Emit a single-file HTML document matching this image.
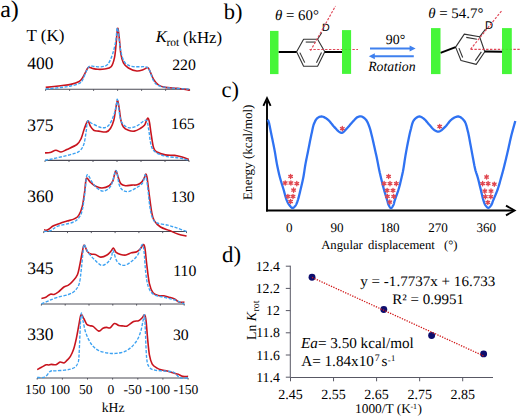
<!DOCTYPE html>
<html><head><meta charset="utf-8"><style>
html,body{margin:0;padding:0;background:#fff;overflow:hidden;}
svg{display:block;text-rendering:geometricPrecision;}
</style></head><body>
<svg width="520" height="417" viewBox="0 0 520 417">
<rect width="520" height="417" fill="#fff"/>
<line x1="45.6" y1="89.3" x2="189.6" y2="89.3" stroke="#4a4a55" stroke-width="1.1"/>
<line x1="45.6" y1="89.3" x2="45.6" y2="90.9" stroke="#4a4a55" stroke-width="0.9"/>
<line x1="69.6" y1="89.3" x2="69.6" y2="90.9" stroke="#4a4a55" stroke-width="0.9"/>
<line x1="93.6" y1="89.3" x2="93.6" y2="90.9" stroke="#4a4a55" stroke-width="0.9"/>
<line x1="117.6" y1="89.3" x2="117.6" y2="90.9" stroke="#4a4a55" stroke-width="0.9"/>
<line x1="141.6" y1="89.3" x2="141.6" y2="90.9" stroke="#4a4a55" stroke-width="0.9"/>
<line x1="165.6" y1="89.3" x2="165.6" y2="90.9" stroke="#4a4a55" stroke-width="0.9"/>
<line x1="189.6" y1="89.3" x2="189.6" y2="90.9" stroke="#4a4a55" stroke-width="0.9"/>
<path d="M45.70 87.40 C48.22 87.12 56.62 86.20 60.80 85.70 C64.98 85.20 67.73 85.10 70.80 84.40 C73.87 83.70 77.23 82.62 79.20 81.50 C81.17 80.38 81.47 79.40 82.60 77.70 C83.73 76.00 85.02 73.03 86.00 71.30 C86.98 69.57 87.38 67.77 88.50 67.30 C89.62 66.83 91.17 68.17 92.70 68.50 C94.23 68.83 95.75 69.22 97.70 69.30 C99.65 69.38 102.17 69.42 104.40 69.00 C106.63 68.58 109.42 68.70 111.10 66.80 C112.78 64.90 113.67 61.38 114.50 57.60 C115.33 53.82 115.58 48.97 116.10 44.10 C116.62 39.23 117.08 29.52 117.60 28.40 C118.12 27.28 118.65 33.10 119.20 37.40 C119.75 41.70 120.20 49.95 120.90 54.20 C121.60 58.45 122.15 60.60 123.40 62.90 C124.65 65.20 126.17 66.65 128.40 68.00 C130.63 69.35 134.28 70.73 136.80 71.00 C139.32 71.27 141.68 70.17 143.50 69.60 C145.32 69.03 146.58 67.23 147.70 67.60 C148.82 67.97 149.22 69.83 150.20 71.80 C151.18 73.77 152.20 77.17 153.60 79.40 C155.00 81.63 156.65 83.87 158.60 85.20 C160.55 86.53 162.22 86.88 165.30 87.40 C168.38 87.92 173.73 87.97 177.10 88.30 C180.47 88.63 183.40 89.07 185.50 89.40 C187.60 89.73 189.00 90.15 189.70 90.30" fill="none" stroke="#c8141e" stroke-width="1.6" stroke-linejoin="round"/>
<path d="M45.70 89.00 C48.22 88.75 56.62 88.00 60.80 87.50 C64.98 87.00 67.73 86.67 70.80 86.00 C73.87 85.33 77.23 84.50 79.20 83.50 C81.17 82.50 81.47 81.92 82.60 80.00 C83.73 78.08 84.88 74.28 86.00 72.00 C87.12 69.72 87.92 67.22 89.30 66.30 C90.68 65.38 92.35 66.42 94.30 66.50 C96.25 66.58 98.75 67.17 101.00 66.80 C103.25 66.43 105.83 66.53 107.80 64.30 C109.77 62.07 111.47 57.32 112.80 53.40 C114.13 49.48 115.02 45.03 115.80 40.80 C116.58 36.57 116.65 26.18 117.50 28.00 C118.35 29.82 119.65 45.93 120.90 51.70 C122.15 57.47 123.18 60.17 125.00 62.60 C126.82 65.03 129.27 65.60 131.80 66.30 C134.33 67.00 137.83 66.72 140.20 66.80 C142.57 66.88 144.47 66.25 146.00 66.80 C147.53 67.35 148.13 67.73 149.40 70.10 C150.67 72.47 152.07 78.40 153.60 81.00 C155.13 83.60 156.08 84.57 158.60 85.70 C161.12 86.83 163.67 87.23 168.70 87.80 C173.73 88.37 185.45 88.88 188.80 89.10" fill="none" stroke="#3da2f2" stroke-width="1.35" stroke-dasharray="3.2 1.5"/>
<line x1="45.0" y1="160.4" x2="189.0" y2="160.4" stroke="#4a4a55" stroke-width="1.1"/>
<line x1="45.0" y1="160.4" x2="45.0" y2="162.0" stroke="#4a4a55" stroke-width="0.9"/>
<line x1="69.0" y1="160.4" x2="69.0" y2="162.0" stroke="#4a4a55" stroke-width="0.9"/>
<line x1="93.0" y1="160.4" x2="93.0" y2="162.0" stroke="#4a4a55" stroke-width="0.9"/>
<line x1="117.0" y1="160.4" x2="117.0" y2="162.0" stroke="#4a4a55" stroke-width="0.9"/>
<line x1="141.0" y1="160.4" x2="141.0" y2="162.0" stroke="#4a4a55" stroke-width="0.9"/>
<line x1="165.0" y1="160.4" x2="165.0" y2="162.0" stroke="#4a4a55" stroke-width="0.9"/>
<line x1="189.0" y1="160.4" x2="189.0" y2="162.0" stroke="#4a4a55" stroke-width="0.9"/>
<path d="M45.00 152.90 C45.85 152.83 48.28 152.93 50.10 152.50 C51.92 152.07 54.08 150.38 55.90 150.30 C57.72 150.22 59.18 152.13 61.00 152.00 C62.82 151.87 64.15 150.75 66.80 149.50 C69.45 148.25 74.52 146.32 76.90 144.50 C79.28 142.68 79.85 141.27 81.10 138.60 C82.35 135.93 83.28 131.43 84.40 128.50 C85.52 125.57 86.82 121.42 87.80 121.00 C88.78 120.58 89.32 124.47 90.30 126.00 C91.28 127.53 92.30 129.35 93.70 130.20 C95.10 131.05 96.60 130.82 98.70 131.10 C100.80 131.38 104.35 132.33 106.30 131.90 C108.25 131.47 109.15 130.45 110.40 128.50 C111.65 126.55 112.90 123.55 113.80 120.20 C114.70 116.85 115.18 111.77 115.80 108.40 C116.42 105.03 116.93 100.00 117.50 100.00 C118.07 100.00 118.63 105.03 119.20 108.40 C119.77 111.77 120.20 117.12 120.90 120.20 C121.60 123.28 122.15 125.23 123.40 126.90 C124.65 128.57 126.58 129.50 128.40 130.20 C130.22 130.90 132.33 131.38 134.30 131.10 C136.27 130.82 138.52 129.48 140.20 128.50 C141.88 127.52 143.43 126.32 144.40 125.20 C145.37 124.08 145.45 122.98 146.00 121.80 C146.55 120.62 147.13 118.10 147.70 118.10 C148.27 118.10 148.83 119.22 149.40 121.80 C149.97 124.38 150.40 129.27 151.10 133.60 C151.80 137.93 152.63 144.73 153.60 147.80 C154.57 150.87 154.95 150.82 156.90 152.00 C158.85 153.18 162.35 154.33 165.30 154.90 C168.25 155.47 171.80 155.03 174.60 155.40 C177.40 155.77 179.73 156.40 182.10 157.10 C184.47 157.80 187.68 159.18 188.80 159.60" fill="none" stroke="#c8141e" stroke-width="1.6" stroke-linejoin="round"/>
<path d="M45.00 160.40 C46.97 159.98 52.03 159.02 56.80 157.90 C61.57 156.78 69.68 154.97 73.60 153.70 C77.52 152.43 78.57 151.97 80.30 150.30 C82.03 148.63 83.03 146.77 84.00 143.70 C84.97 140.63 85.47 135.68 86.10 131.90 C86.73 128.12 86.82 122.40 87.80 121.00 C88.78 119.60 89.62 122.38 92.00 123.50 C94.38 124.62 99.30 127.42 102.10 127.70 C104.90 127.98 106.85 127.30 108.80 125.20 C110.75 123.10 112.55 118.45 113.80 115.10 C115.05 111.75 115.68 107.67 116.30 105.10 C116.92 102.53 116.88 97.75 117.50 99.70 C118.12 101.65 119.17 112.83 120.00 116.80 C120.83 120.77 121.10 121.68 122.50 123.50 C123.90 125.32 126.02 127.28 128.40 127.70 C130.78 128.12 133.87 127.25 136.80 126.00 C139.73 124.75 144.05 119.78 146.00 120.20 C147.95 120.62 147.65 124.32 148.50 128.50 C149.35 132.68 149.97 141.38 151.10 145.30 C152.23 149.22 152.93 150.18 155.30 152.00 C157.67 153.82 161.40 155.22 165.30 156.20 C169.20 157.18 174.78 157.25 178.70 157.90 C182.62 158.55 187.12 159.73 188.80 160.10" fill="none" stroke="#3da2f2" stroke-width="1.35" stroke-dasharray="3.2 1.5"/>
<line x1="43.7" y1="231.5" x2="186.5" y2="231.5" stroke="#4a4a55" stroke-width="1.1"/>
<line x1="43.7" y1="231.5" x2="43.7" y2="233.1" stroke="#4a4a55" stroke-width="0.9"/>
<line x1="67.5" y1="231.5" x2="67.5" y2="233.1" stroke="#4a4a55" stroke-width="0.9"/>
<line x1="91.3" y1="231.5" x2="91.3" y2="233.1" stroke="#4a4a55" stroke-width="0.9"/>
<line x1="115.1" y1="231.5" x2="115.1" y2="233.1" stroke="#4a4a55" stroke-width="0.9"/>
<line x1="138.9" y1="231.5" x2="138.9" y2="233.1" stroke="#4a4a55" stroke-width="0.9"/>
<line x1="162.7" y1="231.5" x2="162.7" y2="233.1" stroke="#4a4a55" stroke-width="0.9"/>
<line x1="186.5" y1="231.5" x2="186.5" y2="233.1" stroke="#4a4a55" stroke-width="0.9"/>
<path d="M44.00 229.70 C44.53 229.77 45.62 230.75 47.20 230.10 C48.78 229.45 51.40 226.92 53.50 225.80 C55.60 224.68 57.55 224.18 59.80 223.40 C62.05 222.62 64.60 221.85 67.00 221.10 C69.40 220.35 72.25 219.85 74.20 218.90 C76.15 217.95 77.35 217.48 78.70 215.40 C80.05 213.32 81.32 210.30 82.30 206.40 C83.28 202.50 83.92 196.65 84.60 192.00 C85.28 187.35 85.45 180.15 86.40 178.50 C87.35 176.85 88.75 180.82 90.30 182.10 C91.85 183.38 93.75 185.22 95.70 186.20 C97.65 187.18 99.75 188.08 102.00 188.00 C104.25 187.92 107.40 186.83 109.20 185.70 C111.00 184.57 111.97 182.85 112.80 181.20 C113.63 179.55 113.67 177.53 114.20 175.80 C114.73 174.07 115.32 170.50 116.00 170.80 C116.68 171.10 117.47 175.42 118.30 177.60 C119.13 179.78 119.80 182.55 121.00 183.90 C122.20 185.25 123.70 185.50 125.50 185.70 C127.30 185.90 129.85 185.25 131.80 185.10 C133.75 184.95 135.55 185.30 137.20 184.80 C138.85 184.30 140.50 183.30 141.70 182.10 C142.90 180.90 143.72 178.95 144.40 177.60 C145.08 176.25 145.35 174.00 145.80 174.00 C146.25 174.00 146.58 174.60 147.10 177.60 C147.62 180.60 148.15 186.32 148.90 192.00 C149.65 197.68 150.72 206.92 151.60 211.70 C152.48 216.48 152.72 218.15 154.20 220.70 C155.68 223.25 157.95 225.35 160.50 227.00 C163.05 228.65 166.50 229.40 169.50 230.60 C172.50 231.80 175.65 233.30 178.50 234.20 C181.35 235.10 185.25 235.70 186.60 236.00" fill="none" stroke="#c8141e" stroke-width="1.6" stroke-linejoin="round"/>
<path d="M44.00 231.50 C45.13 231.35 48.47 231.50 50.80 230.60 C53.13 229.70 54.40 227.45 58.00 226.10 C61.60 224.75 68.95 223.85 72.40 222.50 C75.85 221.15 77.05 220.08 78.70 218.00 C80.35 215.92 81.25 214.33 82.30 210.00 C83.35 205.67 84.20 197.85 85.00 192.00 C85.80 186.15 85.92 176.55 87.10 174.90 C88.28 173.25 90.37 179.85 92.10 182.10 C93.83 184.35 95.55 186.90 97.50 188.40 C99.45 189.90 101.55 191.55 103.80 191.10 C106.05 190.65 108.97 189.15 111.00 185.70 C113.03 182.25 114.63 170.55 116.00 170.40 C117.37 170.25 118.07 181.50 119.20 184.80 C120.33 188.10 121.30 189.07 122.80 190.20 C124.30 191.33 126.10 191.90 128.20 191.60 C130.30 191.30 133.00 189.83 135.40 188.40 C137.80 186.97 140.95 185.25 142.60 183.00 C144.25 180.75 144.47 174.30 145.30 174.90 C146.13 175.50 146.85 181.35 147.60 186.60 C148.35 191.85 148.98 201.17 149.80 206.40 C150.62 211.63 151.30 215.25 152.50 218.00 C153.70 220.75 154.47 221.70 157.00 222.90 C159.53 224.10 164.42 224.37 167.70 225.20 C170.98 226.03 173.55 226.85 176.70 227.90 C179.85 228.95 184.95 230.90 186.60 231.50" fill="none" stroke="#3da2f2" stroke-width="1.35" stroke-dasharray="3.2 1.5"/>
<line x1="41.4" y1="304.0" x2="184.2" y2="304.0" stroke="#4a4a55" stroke-width="1.1"/>
<line x1="41.4" y1="304.0" x2="41.4" y2="305.6" stroke="#4a4a55" stroke-width="0.9"/>
<line x1="65.2" y1="304.0" x2="65.2" y2="305.6" stroke="#4a4a55" stroke-width="0.9"/>
<line x1="89.0" y1="304.0" x2="89.0" y2="305.6" stroke="#4a4a55" stroke-width="0.9"/>
<line x1="112.8" y1="304.0" x2="112.8" y2="305.6" stroke="#4a4a55" stroke-width="0.9"/>
<line x1="136.6" y1="304.0" x2="136.6" y2="305.6" stroke="#4a4a55" stroke-width="0.9"/>
<line x1="160.4" y1="304.0" x2="160.4" y2="305.6" stroke="#4a4a55" stroke-width="0.9"/>
<line x1="184.2" y1="304.0" x2="184.2" y2="305.6" stroke="#4a4a55" stroke-width="0.9"/>
<path d="M41.40 298.50 C42.15 298.28 44.40 297.92 45.90 297.20 C47.40 296.48 49.05 294.65 50.40 294.20 C51.75 293.75 52.65 294.90 54.00 294.50 C55.35 294.10 56.85 293.05 58.50 291.80 C60.15 290.55 62.25 288.10 63.90 287.00 C65.55 285.90 66.90 286.20 68.40 285.20 C69.90 284.20 71.40 282.73 72.90 281.00 C74.40 279.27 76.22 277.63 77.40 274.80 C78.58 271.97 79.17 267.90 80.00 264.00 C80.83 260.10 81.70 254.55 82.40 251.40 C83.10 248.25 83.40 245.10 84.20 245.10 C85.00 245.10 86.10 249.90 87.20 251.40 C88.30 252.90 89.45 253.60 90.80 254.10 C92.15 254.60 93.65 253.90 95.30 254.40 C96.95 254.90 98.75 257.00 100.70 257.10 C102.65 257.20 105.27 256.02 107.00 255.00 C108.73 253.98 110.03 252.15 111.10 251.00 C112.17 249.85 112.57 247.88 113.40 248.10 C114.23 248.32 114.90 251.25 116.10 252.30 C117.30 253.35 118.95 253.95 120.60 254.40 C122.25 254.85 124.20 255.27 126.00 255.00 C127.80 254.73 129.60 253.35 131.40 252.80 C133.20 252.25 135.30 252.38 136.80 251.70 C138.30 251.02 139.35 249.88 140.40 248.70 C141.45 247.52 142.35 244.75 143.10 244.60 C143.85 244.45 144.30 244.57 144.90 247.80 C145.50 251.03 145.95 258.02 146.70 264.00 C147.45 269.98 148.35 278.92 149.40 283.70 C150.45 288.48 151.50 290.75 153.00 292.70 C154.50 294.65 156.60 294.88 158.40 295.40 C160.20 295.92 162.02 295.50 163.80 295.80 C165.58 296.10 167.32 296.67 169.10 297.20 C170.88 297.73 172.85 298.18 174.50 299.00 C176.15 299.82 177.35 301.58 179.00 302.10 C180.65 302.62 183.50 302.10 184.40 302.10" fill="none" stroke="#c8141e" stroke-width="1.6" stroke-linejoin="round"/>
<path d="M41.40 303.90 C42.60 303.38 45.90 301.92 48.60 300.80 C51.30 299.68 54.30 298.25 57.60 297.20 C60.90 296.15 65.55 295.55 68.40 294.50 C71.25 293.45 72.90 292.70 74.70 290.90 C76.50 289.10 78.10 287.28 79.20 283.70 C80.30 280.12 80.65 274.78 81.30 269.40 C81.95 264.02 82.62 255.53 83.10 251.40 C83.58 247.27 83.37 244.45 84.20 244.60 C85.03 244.75 86.40 249.82 88.10 252.30 C89.80 254.78 92.15 257.32 94.40 259.50 C96.65 261.68 99.35 264.95 101.60 265.40 C103.85 265.85 106.25 263.63 107.90 262.20 C109.55 260.77 110.65 258.75 111.50 256.80 C112.35 254.85 112.08 249.75 113.00 250.50 C113.92 251.25 115.28 258.82 117.00 261.30 C118.72 263.78 121.05 265.25 123.30 265.40 C125.55 265.55 128.10 263.93 130.50 262.20 C132.90 260.47 135.75 257.93 137.70 255.00 C139.65 252.07 141.15 245.20 142.20 244.60 C143.25 244.00 143.40 246.67 144.00 251.40 C144.60 256.13 145.05 267.02 145.80 273.00 C146.55 278.98 147.17 283.72 148.50 287.30 C149.83 290.88 151.25 292.85 153.80 294.50 C156.35 296.15 160.35 296.30 163.80 297.20 C167.25 298.10 171.07 298.78 174.50 299.90 C177.93 301.02 182.75 303.23 184.40 303.90" fill="none" stroke="#3da2f2" stroke-width="1.35" stroke-dasharray="3.2 1.5"/>
<line x1="37.2" y1="378.0" x2="188.1" y2="378.0" stroke="#4a4a55" stroke-width="1.1"/>
<line x1="37.2" y1="378.0" x2="37.2" y2="379.6" stroke="#4a4a55" stroke-width="0.9"/>
<line x1="62.4" y1="378.0" x2="62.4" y2="379.6" stroke="#4a4a55" stroke-width="0.9"/>
<line x1="87.5" y1="378.0" x2="87.5" y2="379.6" stroke="#4a4a55" stroke-width="0.9"/>
<line x1="112.6" y1="378.0" x2="112.6" y2="379.6" stroke="#4a4a55" stroke-width="0.9"/>
<line x1="137.8" y1="378.0" x2="137.8" y2="379.6" stroke="#4a4a55" stroke-width="0.9"/>
<line x1="162.9" y1="378.0" x2="162.9" y2="379.6" stroke="#4a4a55" stroke-width="0.9"/>
<line x1="188.1" y1="378.0" x2="188.1" y2="379.6" stroke="#4a4a55" stroke-width="0.9"/>
<path d="M37.20 369.60 C37.92 369.22 40.00 368.10 41.50 367.30 C43.00 366.50 45.03 365.18 46.20 364.80 C47.37 364.42 47.65 365.07 48.50 365.00 C49.35 364.93 50.05 364.45 51.30 364.40 C52.55 364.35 54.55 365.08 56.00 364.70 C57.45 364.32 58.67 362.40 60.00 362.10 C61.33 361.80 62.85 363.18 64.00 362.90 C65.15 362.62 65.83 361.50 66.90 360.40 C67.97 359.30 69.28 358.15 70.40 356.30 C71.52 354.45 72.62 352.25 73.60 349.30 C74.58 346.35 75.40 342.78 76.30 338.60 C77.20 334.42 78.22 328.17 79.00 324.20 C79.78 320.23 80.20 315.75 81.00 314.80 C81.80 313.85 82.85 316.93 83.80 318.50 C84.75 320.07 85.63 323.00 86.70 324.20 C87.77 325.40 89.13 325.33 90.20 325.70 C91.27 326.07 91.67 325.50 93.10 326.40 C94.53 327.30 97.15 330.80 98.80 331.10 C100.45 331.40 101.70 328.82 103.00 328.20 C104.30 327.58 105.40 327.47 106.60 327.40 C107.80 327.33 108.90 328.45 110.20 327.80 C111.50 327.15 112.98 323.90 114.40 323.50 C115.82 323.10 117.38 325.00 118.70 325.40 C120.02 325.80 120.88 325.82 122.30 325.90 C123.72 325.98 125.32 326.65 127.20 325.90 C129.08 325.15 131.70 322.27 133.60 321.40 C135.50 320.53 137.17 321.30 138.60 320.70 C140.03 320.10 141.20 318.78 142.20 317.80 C143.20 316.82 143.95 314.27 144.60 314.80 C145.25 315.33 145.60 317.03 146.10 321.00 C146.60 324.97 147.05 332.97 147.60 338.60 C148.15 344.23 148.65 350.60 149.40 354.80 C150.15 359.00 150.90 361.63 152.10 363.80 C153.30 365.97 154.95 366.75 156.60 367.80 C158.25 368.85 160.20 369.57 162.00 370.10 C163.80 370.63 165.60 370.55 167.40 371.00 C169.20 371.45 171.00 372.25 172.80 372.80 C174.60 373.35 176.55 373.70 178.20 374.30 C179.85 374.90 181.05 376.05 182.70 376.40 C184.35 376.75 187.20 376.40 188.10 376.40" fill="none" stroke="#c8141e" stroke-width="1.6" stroke-linejoin="round"/>
<path d="M37.20 377.50 C38.50 377.42 42.83 378.03 45.00 377.00 C47.17 375.97 48.47 372.33 50.20 371.30 C51.93 370.27 53.00 370.98 55.40 370.80 C57.80 370.62 62.00 370.50 64.60 370.20 C67.20 369.90 69.17 369.58 71.00 369.00 C72.83 368.42 74.45 367.75 75.60 366.70 C76.75 365.65 77.33 364.52 77.90 362.70 C78.47 360.88 78.48 363.78 79.00 355.80 C79.52 347.82 80.32 320.53 81.00 314.80 C81.68 309.07 82.38 318.65 83.10 321.40 C83.82 324.15 84.35 328.22 85.30 331.30 C86.25 334.38 87.50 337.40 88.80 339.90 C90.10 342.40 91.43 344.52 93.10 346.30 C94.77 348.08 96.43 349.48 98.80 350.60 C101.17 351.72 104.47 352.53 107.30 353.00 C110.13 353.47 112.95 353.63 115.80 353.40 C118.65 353.17 121.78 352.67 124.40 351.60 C127.02 350.53 129.37 348.95 131.50 347.00 C133.63 345.05 135.65 342.52 137.20 339.90 C138.75 337.28 139.85 334.38 140.80 331.30 C141.75 328.22 142.27 324.15 142.90 321.40 C143.53 318.65 144.20 313.43 144.60 314.80 C145.00 316.17 144.95 322.33 145.30 329.60 C145.65 336.87 146.02 352.10 146.70 358.40 C147.38 364.70 148.05 365.45 149.40 367.40 C150.75 369.35 152.40 369.50 154.80 370.10 C157.20 370.70 160.80 370.70 163.80 371.00 C166.80 371.30 170.55 371.15 172.80 371.90 C175.05 372.65 176.10 374.50 177.30 375.50 C178.50 376.50 178.20 377.50 180.00 377.90 C181.80 378.30 186.75 377.90 188.10 377.90" fill="none" stroke="#3da2f2" stroke-width="1.35" stroke-dasharray="3.2 1.5"/>
<text x="0.20" y="17.30" font-family="&quot;Liberation Serif&quot;, serif" font-size="24.00" text-anchor="start">a)</text>
<text x="26.50" y="41.20" font-family="&quot;Liberation Serif&quot;, serif" font-size="17.00" text-anchor="start">T (K)</text>
<text x="155.80" y="41.90" font-family="&quot;Liberation Serif&quot;, serif" font-size="16.50" text-anchor="start"><tspan font-style="italic">K</tspan></text>
<text x="166.50" y="46.30" font-family="&quot;Liberation Serif&quot;, serif" font-size="11.50" text-anchor="start">rot</text>
<text x="183.00" y="43.20" font-family="&quot;Liberation Serif&quot;, serif" font-size="16.80" text-anchor="start">(kHz)</text>
<text x="27.30" y="68.60" font-family="&quot;Liberation Serif&quot;, serif" font-size="17.50" text-anchor="start">400</text>
<text x="27.30" y="130.50" font-family="&quot;Liberation Serif&quot;, serif" font-size="17.50" text-anchor="start">375</text>
<text x="27.30" y="201.80" font-family="&quot;Liberation Serif&quot;, serif" font-size="17.50" text-anchor="start">360</text>
<text x="27.30" y="274.30" font-family="&quot;Liberation Serif&quot;, serif" font-size="17.50" text-anchor="start">345</text>
<text x="27.30" y="340.20" font-family="&quot;Liberation Serif&quot;, serif" font-size="17.50" text-anchor="start">330</text>
<text x="195.90" y="69.60" font-family="&quot;Liberation Serif&quot;, serif" font-size="15.80" text-anchor="end">220</text>
<text x="194.70" y="129.00" font-family="&quot;Liberation Serif&quot;, serif" font-size="15.80" text-anchor="end">165</text>
<text x="194.70" y="202.10" font-family="&quot;Liberation Serif&quot;, serif" font-size="15.80" text-anchor="end">130</text>
<text x="196.40" y="275.60" font-family="&quot;Liberation Serif&quot;, serif" font-size="15.80" text-anchor="end">110</text>
<text x="188.70" y="340.00" font-family="&quot;Liberation Serif&quot;, serif" font-size="15.80" text-anchor="end">30</text>
<text x="25.10" y="394.30" font-family="&quot;Liberation Serif&quot;, serif" font-size="13.60" text-anchor="start">150</text>
<text x="49.70" y="394.30" font-family="&quot;Liberation Serif&quot;, serif" font-size="13.60" text-anchor="start">100</text>
<text x="79.00" y="394.30" font-family="&quot;Liberation Serif&quot;, serif" font-size="13.60" text-anchor="start">50</text>
<text x="107.40" y="394.30" font-family="&quot;Liberation Serif&quot;, serif" font-size="13.60" text-anchor="start">0</text>
<text x="123.60" y="394.30" font-family="&quot;Liberation Serif&quot;, serif" font-size="13.60" text-anchor="start">-50</text>
<text x="145.20" y="394.30" font-family="&quot;Liberation Serif&quot;, serif" font-size="13.60" text-anchor="start">-100</text>
<text x="173.50" y="394.30" font-family="&quot;Liberation Serif&quot;, serif" font-size="13.60" text-anchor="start">-150</text>
<text x="101.70" y="412.20" font-family="&quot;Liberation Serif&quot;, serif" font-size="13.70" text-anchor="start">kHz</text>
<text x="223.80" y="18.90" font-family="&quot;Liberation Serif&quot;, serif" font-size="22.50" text-anchor="start">b)</text>
<text x="275.00" y="20.20" font-family="&quot;Liberation Serif&quot;, serif" font-size="14.80" text-anchor="start" textLength="43.90" lengthAdjust="spacingAndGlyphs"><tspan font-style="italic">θ</tspan> = 60°</text>
<text x="428.20" y="18.00" font-family="&quot;Liberation Serif&quot;, serif" font-size="14.60" text-anchor="start" textLength="55.20" lengthAdjust="spacingAndGlyphs"><tspan font-style="italic">θ</tspan> = 54.7°</text>
<path d="M296.60 51.80 L303.60 39.30 L317.60 39.30 L324.80 51.80 L317.60 66.20 L303.60 66.20 Z" fill="none" stroke="#333" stroke-width="1.10" stroke-linejoin="round"/>
<line x1="305.74" y1="42.06" x2="315.47" y2="42.06" stroke="#333" stroke-width="1.10"/>
<line x1="321.48" y1="52.62" x2="316.48" y2="62.63" stroke="#333" stroke-width="1.10"/>
<line x1="304.75" y1="62.63" x2="299.88" y2="52.62" stroke="#333" stroke-width="1.10"/>
<line x1="278.5" y1="52" x2="296.6" y2="52" stroke="#000" stroke-width="2"/>
<line x1="324.8" y1="52" x2="342" y2="52" stroke="#000" stroke-width="2"/>
<line x1="317.6" y1="39.3" x2="321.8" y2="32.5" stroke="#333" stroke-width="1.1"/>
<text x="322.00" y="30.80" font-family="&quot;Liberation Sans&quot;, sans-serif" font-size="10.70" text-anchor="start">D</text>
<path d="M309.5 49.5 L358 49.5 M310.5 50.8 L335.5 6" stroke="#e04858" stroke-width="1.15" stroke-dasharray="2.4 1.5" fill="none"/>
<path d="M455.60 47.10 L464.30 34.10 L479.60 36.80 L484.80 51.80 L476.20 64.40 L461.00 60.50 Z" fill="none" stroke="#333" stroke-width="1.10" stroke-linejoin="round"/>
<line x1="466.27" y1="37.38" x2="476.91" y2="39.26" stroke="#333" stroke-width="1.10"/>
<line x1="481.34" y1="51.83" x2="475.36" y2="60.59" stroke="#333" stroke-width="1.10"/>
<line x1="462.69" y1="57.47" x2="458.93" y2="48.16" stroke="#333" stroke-width="1.10"/>
<line x1="440.5" y1="52.9" x2="455.6" y2="47.1" stroke="#000" stroke-width="2"/>
<line x1="484.8" y1="51.5" x2="502.5" y2="51.8" stroke="#000" stroke-width="2"/>
<line x1="479.6" y1="36.8" x2="485.5" y2="29.2" stroke="#333" stroke-width="1.1"/>
<text x="484.90" y="28.50" font-family="&quot;Liberation Sans&quot;, sans-serif" font-size="11.20" text-anchor="start">D</text>
<path d="M470.5 49.3 L520 49.3 M470.5 49.3 L501.5 11" stroke="#e04858" stroke-width="1.15" stroke-dasharray="2.4 1.5" fill="none"/>
<rect x="270" y="30.9" width="8.5" height="43.2" fill="#38f52a" fill-opacity="0.93"/>
<rect x="342" y="30.1" width="9.1" height="43.8" fill="#38f52a" fill-opacity="0.93"/>
<rect x="431" y="28.1" width="9.5" height="46" fill="#38f52a" fill-opacity="0.93"/>
<rect x="502" y="28.1" width="9.8" height="46" fill="#38f52a" fill-opacity="0.93"/>
<path d="M370 48.4 L411 48.4" stroke="#3f80ee" stroke-width="2"/>
<path d="M415.6 48.4 L409.6 45.4 L409.6 51.4 Z" fill="#3f80ee"/>
<path d="M374 56.2 L413.8 56.2" stroke="#3f80ee" stroke-width="2"/>
<path d="M368.8 56.2 L374.8 53.2 L374.8 59.2 Z" fill="#3f80ee"/>
<text x="385.80" y="43.50" font-family="&quot;Liberation Serif&quot;, serif" font-size="14.00" text-anchor="start" textLength="19.40" lengthAdjust="spacingAndGlyphs">90°</text>
<text x="368.20" y="71.40" font-family="&quot;Liberation Serif&quot;, serif" font-size="14.00" text-anchor="start" font-style="italic" textLength="47.40" lengthAdjust="spacingAndGlyphs">Rotation</text>
<text x="221.60" y="96.50" font-family="&quot;Liberation Serif&quot;, serif" font-size="22.50" text-anchor="start">c)</text>
<line x1="267" y1="101" x2="267" y2="211.5" stroke="#000" stroke-width="1.9"/>
<path d="M263.4 105.8 L267 98.2 L270.6 105.8" fill="none" stroke="#000" stroke-width="1.9" stroke-linejoin="miter"/>
<line x1="266" y1="210.5" x2="513" y2="210.5" stroke="#000" stroke-width="2"/>
<path d="M506.0 205.6 L514.6 210.5 L506.0 215.4" fill="none" stroke="#000" stroke-width="1.9"/>
<path d="M267.60 119.80 L267.67 119.90 L267.73 119.98 L267.80 120.06 L267.86 120.14 L267.93 120.22 L268.00 120.31 L268.06 120.39 L268.13 120.49 L268.20 120.59 L268.26 120.71 L268.33 120.85 L268.40 121.00 L268.61 121.57 L268.83 122.30 L269.05 123.16 L269.28 124.13 L269.52 125.20 L269.75 126.34 L269.99 127.54 L270.23 128.76 L270.48 130.00 L270.72 131.24 L270.96 132.44 L271.20 133.60 L271.48 134.92 L271.76 136.27 L272.05 137.65 L272.35 139.06 L272.64 140.48 L272.93 141.92 L273.23 143.36 L273.51 144.79 L273.80 146.22 L274.07 147.64 L274.34 149.03 L274.60 150.40 L274.83 151.66 L275.05 152.91 L275.26 154.15 L275.46 155.39 L275.66 156.63 L275.86 157.85 L276.06 159.07 L276.25 160.28 L276.46 161.48 L276.66 162.66 L276.88 163.84 L277.10 165.00 L277.31 166.04 L277.52 167.07 L277.73 168.09 L277.94 169.10 L278.15 170.09 L278.37 171.08 L278.59 172.07 L278.82 173.05 L279.05 174.04 L279.30 175.02 L279.54 176.01 L279.80 177.00 L280.07 178.00 L280.35 179.01 L280.64 180.01 L280.93 181.01 L281.24 182.01 L281.54 183.01 L281.85 184.01 L282.17 185.01 L282.48 186.01 L282.79 187.00 L283.10 188.00 L283.40 189.00 L283.70 190.01 L283.99 191.06 L284.29 192.12 L284.58 193.19 L284.87 194.27 L285.17 195.33 L285.46 196.37 L285.76 197.38 L286.06 198.35 L286.37 199.26 L286.68 200.12 L287.00 200.90 L287.21 201.37 L287.41 201.81 L287.61 202.24 L287.82 202.65 L288.02 203.04 L288.23 203.41 L288.44 203.77 L288.66 204.11 L288.88 204.45 L289.11 204.77 L289.35 205.09 L289.60 205.40 L289.83 205.68 L290.06 205.97 L290.30 206.26 L290.55 206.55 L290.80 206.83 L291.06 207.10 L291.32 207.35 L291.57 207.56 L291.83 207.74 L292.09 207.88 L292.35 207.97 L292.60 208.00 L292.85 207.97 L293.11 207.88 L293.38 207.75 L293.64 207.57 L293.91 207.35 L294.17 207.11 L294.43 206.84 L294.68 206.56 L294.93 206.27 L295.17 205.97 L295.39 205.68 L295.60 205.40 L295.82 205.09 L296.02 204.78 L296.20 204.45 L296.37 204.11 L296.54 203.76 L296.69 203.40 L296.84 203.03 L296.99 202.64 L297.14 202.23 L297.28 201.81 L297.44 201.36 L297.60 200.90 L297.86 200.11 L298.13 199.26 L298.39 198.34 L298.65 197.37 L298.92 196.36 L299.18 195.32 L299.44 194.26 L299.70 193.19 L299.95 192.12 L300.21 191.06 L300.46 190.01 L300.70 189.00 L300.94 188.00 L301.18 187.01 L301.42 186.01 L301.66 185.01 L301.89 184.01 L302.12 183.01 L302.35 182.01 L302.57 181.01 L302.79 180.01 L303.00 179.01 L303.20 178.00 L303.40 177.00 L303.58 176.01 L303.75 175.02 L303.91 174.03 L304.07 173.05 L304.21 172.06 L304.36 171.08 L304.50 170.08 L304.64 169.09 L304.80 168.08 L304.95 167.07 L305.12 166.04 L305.30 165.00 L305.51 163.84 L305.73 162.66 L305.96 161.47 L306.20 160.27 L306.44 159.07 L306.68 157.85 L306.93 156.63 L307.18 155.39 L307.44 154.15 L307.69 152.91 L307.95 151.66 L308.20 150.40 L308.47 149.03 L308.75 147.62 L309.03 146.18 L309.32 144.73 L309.61 143.26 L309.89 141.80 L310.18 140.35 L310.47 138.92 L310.76 137.52 L311.04 136.16 L311.32 134.85 L311.60 133.60 L311.81 132.66 L312.00 131.72 L312.19 130.81 L312.37 129.91 L312.55 129.03 L312.74 128.16 L312.93 127.32 L313.13 126.51 L313.34 125.71 L313.57 124.95 L313.82 124.21 L314.10 123.50 L314.33 122.96 L314.56 122.43 L314.80 121.91 L315.04 121.40 L315.30 120.90 L315.56 120.43 L315.84 119.97 L316.12 119.54 L316.42 119.13 L316.73 118.75 L317.06 118.41 L317.40 118.10 L317.70 117.86 L318.02 117.64 L318.34 117.43 L318.68 117.23 L319.03 117.06 L319.38 116.91 L319.74 116.78 L320.11 116.67 L320.48 116.59 L320.85 116.53 L321.22 116.50 L321.60 116.50 L322.06 116.54 L322.54 116.63 L323.02 116.77 L323.52 116.94 L324.02 117.15 L324.52 117.39 L325.03 117.66 L325.53 117.96 L326.04 118.27 L326.53 118.60 L327.02 118.95 L327.50 119.30 L328.09 119.78 L328.67 120.32 L329.24 120.92 L329.81 121.56 L330.38 122.23 L330.94 122.93 L331.49 123.63 L332.04 124.33 L332.59 125.02 L333.13 125.68 L333.67 126.31 L334.20 126.90 L334.65 127.37 L335.09 127.86 L335.53 128.34 L335.97 128.82 L336.41 129.29 L336.84 129.75 L337.27 130.19 L337.69 130.60 L338.11 130.99 L338.51 131.33 L338.91 131.64 L339.30 131.90 L339.54 132.05 L339.77 132.19 L339.99 132.32 L340.22 132.44 L340.43 132.55 L340.65 132.65 L340.87 132.73 L341.09 132.79 L341.31 132.83 L341.53 132.84 L341.76 132.84 L342.00 132.80 L342.36 132.69 L342.73 132.50 L343.11 132.25 L343.49 131.95 L343.87 131.60 L344.27 131.21 L344.66 130.80 L345.06 130.36 L345.47 129.92 L345.88 129.47 L346.29 129.03 L346.70 128.60 L347.23 128.05 L347.78 127.45 L348.35 126.81 L348.92 126.15 L349.50 125.47 L350.08 124.79 L350.66 124.10 L351.23 123.42 L351.80 122.77 L352.35 122.14 L352.88 121.54 L353.40 121.00 L353.77 120.61 L354.14 120.22 L354.49 119.83 L354.83 119.46 L355.17 119.09 L355.51 118.74 L355.85 118.40 L356.19 118.09 L356.53 117.79 L356.88 117.53 L357.23 117.30 L357.60 117.10 L357.91 116.96 L358.23 116.83 L358.55 116.71 L358.88 116.61 L359.20 116.52 L359.53 116.46 L359.86 116.41 L360.19 116.38 L360.52 116.38 L360.85 116.39 L361.18 116.43 L361.50 116.50 L361.89 116.61 L362.28 116.77 L362.67 116.96 L363.07 117.19 L363.46 117.44 L363.85 117.72 L364.24 118.03 L364.62 118.36 L364.98 118.70 L365.34 119.06 L365.68 119.43 L366.00 119.80 L366.36 120.27 L366.70 120.77 L367.02 121.30 L367.33 121.87 L367.62 122.45 L367.90 123.06 L368.17 123.68 L368.42 124.32 L368.68 124.96 L368.92 125.61 L369.16 126.26 L369.40 126.90 L369.65 127.61 L369.89 128.34 L370.12 129.08 L370.34 129.83 L370.54 130.59 L370.74 131.36 L370.94 132.13 L371.13 132.92 L371.32 133.71 L371.51 134.50 L371.70 135.30 L371.90 136.10 L372.12 136.97 L372.33 137.86 L372.54 138.75 L372.75 139.64 L372.96 140.55 L373.16 141.46 L373.37 142.38 L373.57 143.30 L373.78 144.22 L373.99 145.15 L374.19 146.07 L374.40 147.00 L374.62 147.97 L374.84 148.94 L375.06 149.92 L375.28 150.91 L375.50 151.90 L375.72 152.89 L375.94 153.88 L376.16 154.87 L376.37 155.86 L376.59 156.84 L376.80 157.82 L377.00 158.80 L377.20 159.75 L377.39 160.71 L377.58 161.68 L377.76 162.65 L377.95 163.62 L378.13 164.58 L378.31 165.53 L378.49 166.47 L378.67 167.39 L378.85 168.29 L379.02 169.16 L379.20 170.00 L379.34 170.64 L379.47 171.24 L379.60 171.82 L379.72 172.39 L379.85 172.94 L379.97 173.49 L380.10 174.04 L380.23 174.59 L380.36 175.16 L380.50 175.75 L380.65 176.36 L380.80 177.00 L381.01 177.89 L381.23 178.82 L381.46 179.78 L381.70 180.77 L381.95 181.78 L382.20 182.81 L382.46 183.85 L382.72 184.89 L382.98 185.93 L383.25 186.97 L383.53 187.99 L383.80 189.00 L384.09 190.02 L384.39 191.07 L384.71 192.14 L385.03 193.22 L385.36 194.30 L385.69 195.37 L386.02 196.42 L386.33 197.43 L386.63 198.39 L386.92 199.30 L387.17 200.14 L387.40 200.90 L387.51 201.29 L387.61 201.66 L387.69 202.01 L387.77 202.34 L387.84 202.66 L387.91 202.96 L387.98 203.26 L388.06 203.55 L388.15 203.83 L388.25 204.12 L388.36 204.41 L388.50 204.70 L388.66 205.02 L388.84 205.38 L389.03 205.75 L389.23 206.12 L389.44 206.50 L389.66 206.86 L389.89 207.19 L390.12 207.49 L390.34 207.74 L390.57 207.93 L390.79 208.06 L391.00 208.10 L391.21 208.06 L391.43 207.93 L391.66 207.74 L391.88 207.49 L392.11 207.19 L392.34 206.86 L392.56 206.50 L392.77 206.12 L392.97 205.75 L393.16 205.38 L393.34 205.02 L393.50 204.70 L393.63 204.41 L393.75 204.12 L393.85 203.83 L393.93 203.55 L394.01 203.26 L394.08 202.96 L394.15 202.65 L394.22 202.34 L394.29 202.01 L394.38 201.66 L394.48 201.29 L394.60 200.90 L394.85 200.14 L395.14 199.30 L395.46 198.39 L395.80 197.43 L396.17 196.42 L396.55 195.37 L396.93 194.31 L397.31 193.23 L397.69 192.14 L398.05 191.07 L398.39 190.02 L398.70 189.00 L398.99 188.00 L399.27 186.97 L399.55 185.94 L399.82 184.90 L400.08 183.85 L400.34 182.81 L400.59 181.78 L400.83 180.77 L401.06 179.78 L401.28 178.82 L401.49 177.89 L401.70 177.00 L401.85 176.36 L401.99 175.76 L402.12 175.18 L402.25 174.63 L402.37 174.08 L402.49 173.55 L402.60 173.01 L402.72 172.46 L402.84 171.89 L402.95 171.30 L403.07 170.67 L403.20 170.00 L403.38 168.97 L403.57 167.87 L403.76 166.71 L403.94 165.51 L404.13 164.26 L404.32 162.99 L404.51 161.71 L404.70 160.42 L404.90 159.13 L405.10 157.86 L405.30 156.61 L405.50 155.40 L405.70 154.26 L405.90 153.12 L406.10 151.99 L406.30 150.86 L406.51 149.73 L406.72 148.61 L406.92 147.49 L407.14 146.38 L407.35 145.27 L407.56 144.17 L407.78 143.08 L408.00 142.00 L408.21 140.99 L408.41 139.97 L408.61 138.97 L408.81 137.97 L409.02 136.97 L409.22 135.98 L409.44 135.00 L409.65 134.02 L409.88 133.05 L410.11 132.09 L410.35 131.14 L410.60 130.20 L410.83 129.31 L411.06 128.41 L411.27 127.49 L411.49 126.57 L411.72 125.66 L411.95 124.77 L412.21 123.90 L412.48 123.06 L412.78 122.26 L413.12 121.51 L413.49 120.82 L413.90 120.20 L414.26 119.74 L414.65 119.30 L415.06 118.87 L415.49 118.46 L415.95 118.07 L416.41 117.71 L416.88 117.39 L417.35 117.11 L417.83 116.88 L418.30 116.70 L418.76 116.57 L419.20 116.50 L419.59 116.50 L419.97 116.54 L420.36 116.63 L420.75 116.76 L421.13 116.93 L421.51 117.13 L421.90 117.35 L422.28 117.60 L422.66 117.86 L423.04 118.14 L423.42 118.42 L423.80 118.70 L424.29 119.10 L424.78 119.54 L425.27 120.04 L425.76 120.57 L426.25 121.13 L426.73 121.70 L427.22 122.29 L427.70 122.88 L428.18 123.46 L428.65 124.04 L429.13 124.58 L429.60 125.10 L430.02 125.56 L430.44 126.03 L430.86 126.51 L431.27 126.99 L431.68 127.46 L432.09 127.93 L432.50 128.37 L432.92 128.80 L433.33 129.20 L433.75 129.57 L434.17 129.91 L434.60 130.20 L434.94 130.41 L435.28 130.62 L435.62 130.81 L435.97 130.99 L436.31 131.16 L436.66 131.31 L437.01 131.43 L437.36 131.53 L437.71 131.60 L438.07 131.64 L438.43 131.64 L438.80 131.60 L439.30 131.48 L439.81 131.27 L440.33 131.00 L440.85 130.66 L441.39 130.27 L441.92 129.84 L442.46 129.37 L443.00 128.88 L443.53 128.38 L444.06 127.88 L444.59 127.38 L445.10 126.90 L445.67 126.34 L446.23 125.72 L446.78 125.06 L447.32 124.37 L447.86 123.67 L448.40 122.96 L448.94 122.26 L449.49 121.58 L450.04 120.93 L450.61 120.33 L451.20 119.78 L451.80 119.30 L452.33 118.93 L452.87 118.56 L453.43 118.20 L454.00 117.85 L454.57 117.53 L455.14 117.24 L455.72 116.99 L456.30 116.78 L456.86 116.61 L457.42 116.51 L457.97 116.47 L458.50 116.50 L459.03 116.61 L459.57 116.78 L460.10 117.02 L460.63 117.32 L461.16 117.67 L461.68 118.07 L462.18 118.50 L462.67 118.96 L463.14 119.45 L463.59 119.96 L464.01 120.48 L464.40 121.00 L464.83 121.66 L465.21 122.37 L465.56 123.13 L465.87 123.94 L466.15 124.78 L466.42 125.65 L466.66 126.54 L466.89 127.45 L467.12 128.36 L467.34 129.28 L467.57 130.20 L467.80 131.10 L468.05 132.09 L468.29 133.10 L468.52 134.13 L468.73 135.17 L468.94 136.22 L469.14 137.28 L469.33 138.34 L469.52 139.41 L469.71 140.48 L469.90 141.56 L470.10 142.63 L470.30 143.70 L470.51 144.80 L470.72 145.91 L470.93 147.03 L471.14 148.15 L471.34 149.27 L471.55 150.40 L471.76 151.53 L471.96 152.65 L472.17 153.77 L472.38 154.89 L472.59 156.00 L472.80 157.10 L473.00 158.18 L473.21 159.26 L473.41 160.36 L473.61 161.46 L473.81 162.56 L474.01 163.65 L474.22 164.72 L474.42 165.78 L474.64 166.81 L474.85 167.81 L475.07 168.78 L475.30 169.70 L475.48 170.38 L475.66 171.02 L475.85 171.63 L476.04 172.22 L476.23 172.80 L476.43 173.36 L476.62 173.93 L476.82 174.51 L477.01 175.09 L477.21 175.70 L477.41 176.33 L477.60 177.00 L477.85 177.89 L478.09 178.82 L478.34 179.79 L478.59 180.78 L478.84 181.79 L479.09 182.81 L479.34 183.85 L479.60 184.89 L479.85 185.93 L480.10 186.97 L480.35 187.99 L480.60 189.00 L480.85 190.01 L481.10 191.06 L481.35 192.13 L481.61 193.21 L481.86 194.28 L482.11 195.35 L482.36 196.39 L482.62 197.41 L482.86 198.37 L483.11 199.28 L483.36 200.13 L483.60 200.90 L483.74 201.33 L483.87 201.73 L484.00 202.11 L484.12 202.48 L484.24 202.83 L484.36 203.17 L484.49 203.49 L484.63 203.81 L484.78 204.11 L484.93 204.41 L485.11 204.71 L485.30 205.00 L485.50 205.29 L485.72 205.60 L485.96 205.91 L486.20 206.22 L486.46 206.53 L486.72 206.82 L486.98 207.09 L487.25 207.32 L487.52 207.52 L487.78 207.67 L488.05 207.77 L488.30 207.80 L488.55 207.77 L488.82 207.67 L489.08 207.52 L489.35 207.32 L489.62 207.09 L489.88 206.82 L490.14 206.53 L490.40 206.22 L490.64 205.91 L490.88 205.60 L491.10 205.29 L491.30 205.00 L491.49 204.71 L491.66 204.41 L491.81 204.11 L491.94 203.80 L492.07 203.49 L492.19 203.16 L492.31 202.82 L492.43 202.47 L492.55 202.10 L492.69 201.72 L492.83 201.32 L493.00 200.90 L493.32 200.13 L493.68 199.28 L494.06 198.37 L494.47 197.40 L494.89 196.39 L495.33 195.35 L495.77 194.29 L496.20 193.22 L496.63 192.14 L497.05 191.07 L497.44 190.02 L497.80 189.00 L498.14 188.00 L498.47 186.98 L498.79 185.95 L499.10 184.91 L499.40 183.87 L499.69 182.83 L499.98 181.80 L500.26 180.79 L500.53 179.80 L500.79 178.83 L501.05 177.90 L501.30 177.00 L501.49 176.34 L501.66 175.71 L501.83 175.12 L501.99 174.54 L502.15 173.98 L502.31 173.42 L502.46 172.85 L502.62 172.28 L502.78 171.68 L502.94 171.06 L503.12 170.40 L503.30 169.70 L503.59 168.59 L503.88 167.42 L504.19 166.19 L504.52 164.90 L504.84 163.57 L505.18 162.21 L505.52 160.82 L505.86 159.42 L506.20 158.01 L506.54 156.59 L506.87 155.19 L507.20 153.80 L507.55 152.30 L507.90 150.77 L508.24 149.22 L508.59 147.65 L508.94 146.07 L509.29 144.49 L509.63 142.91 L509.98 141.34 L510.33 139.79 L510.69 138.26 L511.04 136.76 L511.40 135.30 L511.72 134.04 L512.04 132.81 L512.36 131.59 L512.69 130.39 L513.01 129.21 L513.34 128.03 L513.67 126.86 L513.99 125.70 L514.32 124.53 L514.65 123.36 L514.97 122.19 L515.30 121.00" fill="none" stroke="#2f72f2" stroke-width="2.3" stroke-linejoin="round"/>
<path d="M290.60 178.50 L290.60 174.30 M288.78 177.45 L292.42 175.35 M288.78 175.35 L292.42 177.45" stroke="#e0464f" stroke-width="1.35" stroke-linecap="round"/>
<path d="M285.20 185.10 L285.20 180.90 M283.38 184.05 L287.02 181.95 M283.38 181.95 L287.02 184.05" stroke="#e0464f" stroke-width="1.35" stroke-linecap="round"/>
<path d="M290.90 185.10 L290.90 180.90 M289.08 184.05 L292.72 181.95 M289.08 181.95 L292.72 184.05" stroke="#e0464f" stroke-width="1.35" stroke-linecap="round"/>
<path d="M296.80 185.70 L296.80 181.50 M294.98 184.65 L298.62 182.55 M294.98 182.55 L298.62 184.65" stroke="#e0464f" stroke-width="1.35" stroke-linecap="round"/>
<path d="M293.60 192.20 L293.60 188.00 M291.78 191.15 L295.42 189.05 M291.78 189.05 L295.42 191.15" stroke="#e0464f" stroke-width="1.35" stroke-linecap="round"/>
<path d="M287.90 198.50 L287.90 194.30 M286.08 197.45 L289.72 195.35 M286.08 195.35 L289.72 197.45" stroke="#e0464f" stroke-width="1.35" stroke-linecap="round"/>
<path d="M293.00 198.50 L293.00 194.30 M291.18 197.45 L294.82 195.35 M291.18 195.35 L294.82 197.45" stroke="#e0464f" stroke-width="1.35" stroke-linecap="round"/>
<path d="M290.60 203.60 L290.60 199.40 M288.78 202.55 L292.42 200.45 M288.78 200.45 L292.42 202.55" stroke="#e0464f" stroke-width="1.35" stroke-linecap="round"/>
<path d="M388.60 178.50 L388.60 174.30 M386.78 177.45 L390.42 175.35 M386.78 175.35 L390.42 177.45" stroke="#e0464f" stroke-width="1.35" stroke-linecap="round"/>
<path d="M384.10 185.70 L384.10 181.50 M382.28 184.65 L385.92 182.55 M382.28 182.55 L385.92 184.65" stroke="#e0464f" stroke-width="1.35" stroke-linecap="round"/>
<path d="M390.00 185.70 L390.00 181.50 M388.18 184.65 L391.82 182.55 M388.18 182.55 L391.82 184.65" stroke="#e0464f" stroke-width="1.35" stroke-linecap="round"/>
<path d="M396.30 185.70 L396.30 181.50 M394.48 184.65 L398.12 182.55 M394.48 182.55 L398.12 184.65" stroke="#e0464f" stroke-width="1.35" stroke-linecap="round"/>
<path d="M387.10 192.50 L387.10 188.30 M385.28 191.45 L388.92 189.35 M385.28 189.35 L388.92 191.45" stroke="#e0464f" stroke-width="1.35" stroke-linecap="round"/>
<path d="M393.00 192.50 L393.00 188.30 M391.18 191.45 L394.82 189.35 M391.18 189.35 L394.82 191.45" stroke="#e0464f" stroke-width="1.35" stroke-linecap="round"/>
<path d="M387.40 198.50 L387.40 194.30 M385.58 197.45 L389.22 195.35 M385.58 195.35 L389.22 197.45" stroke="#e0464f" stroke-width="1.35" stroke-linecap="round"/>
<path d="M393.70 198.50 L393.70 194.30 M391.88 197.45 L395.52 195.35 M391.88 195.35 L395.52 197.45" stroke="#e0464f" stroke-width="1.35" stroke-linecap="round"/>
<path d="M389.80 204.20 L389.80 200.00 M387.98 203.15 L391.62 201.05 M387.98 201.05 L391.62 203.15" stroke="#e0464f" stroke-width="1.35" stroke-linecap="round"/>
<path d="M486.60 179.10 L486.60 174.90 M484.78 178.05 L488.42 175.95 M484.78 175.95 L488.42 178.05" stroke="#e0464f" stroke-width="1.35" stroke-linecap="round"/>
<path d="M482.60 185.70 L482.60 181.50 M480.78 184.65 L484.42 182.55 M480.78 182.55 L484.42 184.65" stroke="#e0464f" stroke-width="1.35" stroke-linecap="round"/>
<path d="M488.10 185.70 L488.10 181.50 M486.28 184.65 L489.92 182.55 M486.28 182.55 L489.92 184.65" stroke="#e0464f" stroke-width="1.35" stroke-linecap="round"/>
<path d="M494.30 186.30 L494.30 182.10 M492.48 185.25 L496.12 183.15 M492.48 183.15 L496.12 185.25" stroke="#e0464f" stroke-width="1.35" stroke-linecap="round"/>
<path d="M484.80 193.20 L484.80 189.00 M482.98 192.15 L486.62 190.05 M482.98 190.05 L486.62 192.15" stroke="#e0464f" stroke-width="1.35" stroke-linecap="round"/>
<path d="M491.00 193.20 L491.00 189.00 M489.18 192.15 L492.82 190.05 M489.18 190.05 L492.82 192.15" stroke="#e0464f" stroke-width="1.35" stroke-linecap="round"/>
<path d="M485.40 198.80 L485.40 194.60 M483.58 197.75 L487.22 195.65 M483.58 195.65 L487.22 197.75" stroke="#e0464f" stroke-width="1.35" stroke-linecap="round"/>
<path d="M490.80 198.80 L490.80 194.60 M488.98 197.75 L492.62 195.65 M488.98 195.65 L492.62 197.75" stroke="#e0464f" stroke-width="1.35" stroke-linecap="round"/>
<path d="M487.80 204.50 L487.80 200.30 M485.98 203.45 L489.62 201.35 M485.98 201.35 L489.62 203.45" stroke="#e0464f" stroke-width="1.35" stroke-linecap="round"/>
<path d="M342.30 130.70 L342.30 126.50 M340.48 129.65 L344.12 127.55 M340.48 127.55 L344.12 129.65" stroke="#e0464f" stroke-width="1.35" stroke-linecap="round"/>
<path d="M439.70 128.60 L439.70 124.40 M437.88 127.55 L441.52 125.45 M437.88 125.45 L441.52 127.55" stroke="#e0464f" stroke-width="1.35" stroke-linecap="round"/>
<text x="289.20" y="232.00" font-family="&quot;Liberation Serif&quot;, serif" font-size="13.10" text-anchor="middle">0</text>
<text x="337.10" y="232.00" font-family="&quot;Liberation Serif&quot;, serif" font-size="13.10" text-anchor="middle">90</text>
<text x="389.75" y="232.00" font-family="&quot;Liberation Serif&quot;, serif" font-size="13.10" text-anchor="middle">180</text>
<text x="438.00" y="232.00" font-family="&quot;Liberation Serif&quot;, serif" font-size="13.10" text-anchor="middle">270</text>
<text x="486.25" y="232.00" font-family="&quot;Liberation Serif&quot;, serif" font-size="13.10" text-anchor="middle">360</text>
<text x="321.20" y="248.80" font-family="&quot;Liberation Serif&quot;, serif" font-size="12.70" text-anchor="start">Angular</text>
<text x="367.90" y="248.80" font-family="&quot;Liberation Serif&quot;, serif" font-size="12.70" text-anchor="start">displacement</text>
<text x="444.00" y="248.80" font-family="&quot;Liberation Serif&quot;, serif" font-size="12.70" text-anchor="start">(°)</text>
<text x="0" y="0" font-family="&quot;Liberation Serif&quot;, serif" font-size="13.1" transform="translate(251.9 199.9) rotate(-90)">Energy (kcal/mol)</text>
<text x="222.00" y="261.60" font-family="&quot;Liberation Serif&quot;, serif" font-size="22.80" text-anchor="start">d)</text>
<line x1="290.3" y1="265.7" x2="290.3" y2="377.5" stroke="#585864" stroke-width="1"/>
<line x1="290.3" y1="377.5" x2="493" y2="377.5" stroke="#585864" stroke-width="1.2"/>
<line x1="285.8" y1="266.20" x2="290.3" y2="266.20" stroke="#585864" stroke-width="1"/>
<text x="279.80" y="270.80" font-family="&quot;Liberation Serif&quot;, serif" font-size="13.80" text-anchor="end">12.4</text>
<line x1="285.8" y1="288.40" x2="290.3" y2="288.40" stroke="#585864" stroke-width="1"/>
<text x="279.80" y="293.00" font-family="&quot;Liberation Serif&quot;, serif" font-size="13.80" text-anchor="end">12.2</text>
<line x1="285.8" y1="310.60" x2="290.3" y2="310.60" stroke="#585864" stroke-width="1"/>
<text x="279.80" y="315.20" font-family="&quot;Liberation Serif&quot;, serif" font-size="13.80" text-anchor="end">12</text>
<line x1="285.8" y1="332.80" x2="290.3" y2="332.80" stroke="#585864" stroke-width="1"/>
<text x="279.80" y="337.40" font-family="&quot;Liberation Serif&quot;, serif" font-size="13.80" text-anchor="end">11.8</text>
<line x1="285.8" y1="355.00" x2="290.3" y2="355.00" stroke="#585864" stroke-width="1"/>
<text x="279.80" y="359.60" font-family="&quot;Liberation Serif&quot;, serif" font-size="13.80" text-anchor="end">11.6</text>
<line x1="285.8" y1="377.20" x2="290.3" y2="377.20" stroke="#585864" stroke-width="1"/>
<text x="279.80" y="381.80" font-family="&quot;Liberation Serif&quot;, serif" font-size="13.80" text-anchor="end">11.4</text>
<line x1="290.50" y1="377.5" x2="290.50" y2="381.3" stroke="#585864" stroke-width="1"/>
<text x="290.50" y="398.80" font-family="&quot;Liberation Serif&quot;, serif" font-size="14.00" text-anchor="middle">2.45</text>
<line x1="333.55" y1="377.5" x2="333.55" y2="381.3" stroke="#585864" stroke-width="1"/>
<text x="333.55" y="398.80" font-family="&quot;Liberation Serif&quot;, serif" font-size="14.00" text-anchor="middle">2.55</text>
<line x1="376.60" y1="377.5" x2="376.60" y2="381.3" stroke="#585864" stroke-width="1"/>
<text x="376.60" y="398.80" font-family="&quot;Liberation Serif&quot;, serif" font-size="14.00" text-anchor="middle">2.65</text>
<line x1="419.65" y1="377.5" x2="419.65" y2="381.3" stroke="#585864" stroke-width="1"/>
<text x="419.65" y="398.80" font-family="&quot;Liberation Serif&quot;, serif" font-size="14.00" text-anchor="middle">2.75</text>
<line x1="462.70" y1="377.5" x2="462.70" y2="381.3" stroke="#585864" stroke-width="1"/>
<text x="462.70" y="398.80" font-family="&quot;Liberation Serif&quot;, serif" font-size="14.00" text-anchor="middle">2.85</text>
<circle cx="312.02" cy="277.30" r="3.45" fill="#0e0e6e"/>
<circle cx="383.79" cy="309.49" r="3.45" fill="#0e0e6e"/>
<circle cx="431.62" cy="335.57" r="3.45" fill="#0e0e6e"/>
<circle cx="483.62" cy="353.89" r="3.45" fill="#0e0e6e"/>
<line x1="312.02" y1="277.44" x2="484.22" y2="356.19" stroke="#d01818" stroke-width="1.3" stroke-dasharray="1.3 1.3"/>
<text x="360.30" y="286.20" font-family="&quot;Liberation Serif&quot;, serif" font-size="14.50" text-anchor="start" textLength="135.00" lengthAdjust="spacingAndGlyphs">y = -1.7737x + 16.733</text>
<text x="392.30" y="303.70" font-family="&quot;Liberation Serif&quot;, serif" font-size="14.50" text-anchor="start" textLength="71.60" lengthAdjust="spacingAndGlyphs">R² = 0.9951</text>
<text x="301.00" y="348.00" font-family="&quot;Liberation Serif&quot;, serif" font-size="15.20" text-anchor="start"><tspan font-style="italic">Ea</tspan>= 3.50 kcal/mol</text>
<text x="301.20" y="365.90" font-family="&quot;Liberation Serif&quot;, serif" font-size="15.20" text-anchor="start">A= 1.84x10</text>
<text x="374.70" y="361.10" font-family="&quot;Liberation Serif&quot;, serif" font-size="9.80" text-anchor="start">7</text>
<text x="381.40" y="365.90" font-family="&quot;Liberation Serif&quot;, serif" font-size="15.20" text-anchor="start">s</text>
<text x="387.80" y="362.80" font-family="&quot;Liberation Serif&quot;, serif" font-size="8.80" text-anchor="start">-</text>
<text x="390.90" y="361.10" font-family="&quot;Liberation Serif&quot;, serif" font-size="8.60" text-anchor="start">1</text>
<text x="355.00" y="412.70" font-family="&quot;Liberation Serif&quot;, serif" font-size="13.40" text-anchor="start">1000/T (K</text>
<text x="410.40" y="409.00" font-family="&quot;Liberation Serif&quot;, serif" font-size="8.00" text-anchor="start">-1</text>
<text x="417.50" y="412.70" font-family="&quot;Liberation Serif&quot;, serif" font-size="13.40" text-anchor="start">)</text>
<text x="0" y="0" font-family="&quot;Liberation Serif&quot;, serif" font-size="13.7" transform="translate(255.6 339.9) rotate(-90)">Ln <tspan font-style="italic">K</tspan></text>
<text x="0" y="0" font-family="&quot;Liberation Serif&quot;, serif" font-size="10" transform="translate(258.9 311.6) rotate(-90)">rot</text>
</svg></body></html>
